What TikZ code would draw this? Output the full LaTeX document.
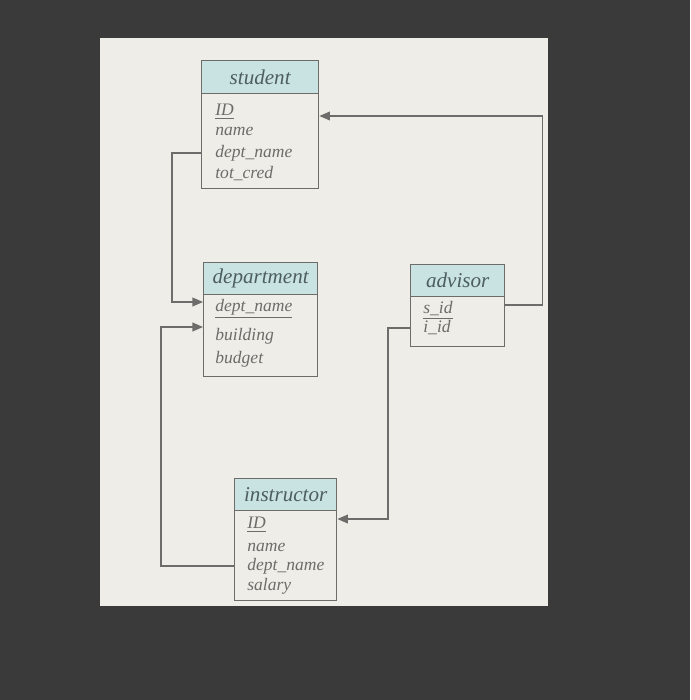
\documentclass[tikz,border=0pt]{standalone}
\usepackage{fontspec}
\setmainfont{Liberation Serif}
\usetikzlibrary{positioning,calc,arrows.meta}
\definecolor{screen}{HTML}{3B3A3A}
\definecolor{paper}{HTML}{EEEDE7}
\definecolor{hdrfill}{HTML}{C8E3E2}
\definecolor{rule}{HTML}{6E6C6A}
\definecolor{ink}{HTML}{6E6C6A}
\definecolor{hdrink}{HTML}{4E5E60}
\tikzset{
	hdr/.style={draw=rule, fill=hdrfill, text=hdrink, font=\fontsize{12}{14}\selectfont\itshape, inner sep=0pt, anchor=north west, line width=0.8pt},
	tbody/.style={draw=rule, anchor=north west, inner sep=0pt, line width=0.8pt},
	attr/.style={text=ink, font=\fontsize{10}{12}\selectfont\itshape, anchor=west, inner sep=0pt},
	link/.style={draw=rule, line width=0.7pt, -{Triangle[length=6pt,width=5pt]}}
}
\begin{document}
\begin{tikzpicture}[x=0.02cm,y=-0.02cm]
		\useasboundingbox (0,0) rectangle (690,700);
		\fill[screen] (0,0) rectangle (690,700);
		\fill[paper] (100,38) rectangle (548,606);
		% student
		\node[hdr, minimum width=2.34cm, minimum height=0.66cm] (stu-h) at (201,60) {student};
		\node[tbody, minimum width=2.34cm, minimum height=1.9cm] (stu-b) at (201,93) {};
		\node[attr] (stu-id) at (215,112) {\underline{ID}};
		\node[attr] (stu-nm) at (215,131) {name};
		\node[attr] (stu-dn) at (215,153) {dept\_name};
		\node[attr] (stu-tc) at (215,174) {tot\_cred};
		% department
		\node[hdr, minimum width=2.28cm, minimum height=0.64cm] (dep-h) at (203,262) {department};
		\node[tbody, minimum width=2.28cm, minimum height=1.64cm] (dep-b) at (203,294) {};
		\node[attr] (dep-dn) at (215,309) {\underline{dept\_name}};
		\node[attr] (dep-bl) at (215,336) {building};
		\node[attr] (dep-bg) at (215,359) {budget};
		% advisor
		\node[hdr, minimum width=1.88cm, minimum height=0.64cm] (adv-h) at (410,264) {advisor};
		\node[tbody, minimum width=1.88cm, minimum height=1cm] (adv-b) at (410,296) {};
		\node[attr] (adv-s) at (423,310) {\underline{s\_id}};
		\node[attr] (adv-i) at (423,328) {i\_id};
		% instructor
		\node[hdr, minimum width=2.04cm, minimum height=0.64cm] (ins-h) at (234,478) {instructor};
		\node[tbody, minimum width=2.04cm, minimum height=1.8cm] (ins-b) at (234,510) {};
		\node[attr] (ins-id) at (247,525) {\underline{ID}};
		\node[attr] (ins-nm) at (247,547) {name};
		\node[attr] (ins-dn) at (247,566) {dept\_name};
		\node[attr] (ins-sl) at (247,586) {salary};
		% foreign keys
		\draw[link] (stu-b.west |- stu-dn) -- ++(-29,0) |- ($(dep-b.west |- dep-dn)+(0,-7)$);
		\draw[link] (ins-b.west |- ins-dn) -- ++(-73,0) |- ($(dep-b.west |- dep-bl)+(0,-9)$);
		\draw[link] ($(adv-b.east |- adv-s)+(0,-5)$) -- ++(37,0) |- ($(stu-b.east |- stu-id)+(0,4)$);
		\draw[link] (adv-b.west |- adv-i) -- ++(-22,0) |- ($(ins-b.east |- ins-id)+(0,-6)$);
	\end{tikzpicture}
\end{document}
